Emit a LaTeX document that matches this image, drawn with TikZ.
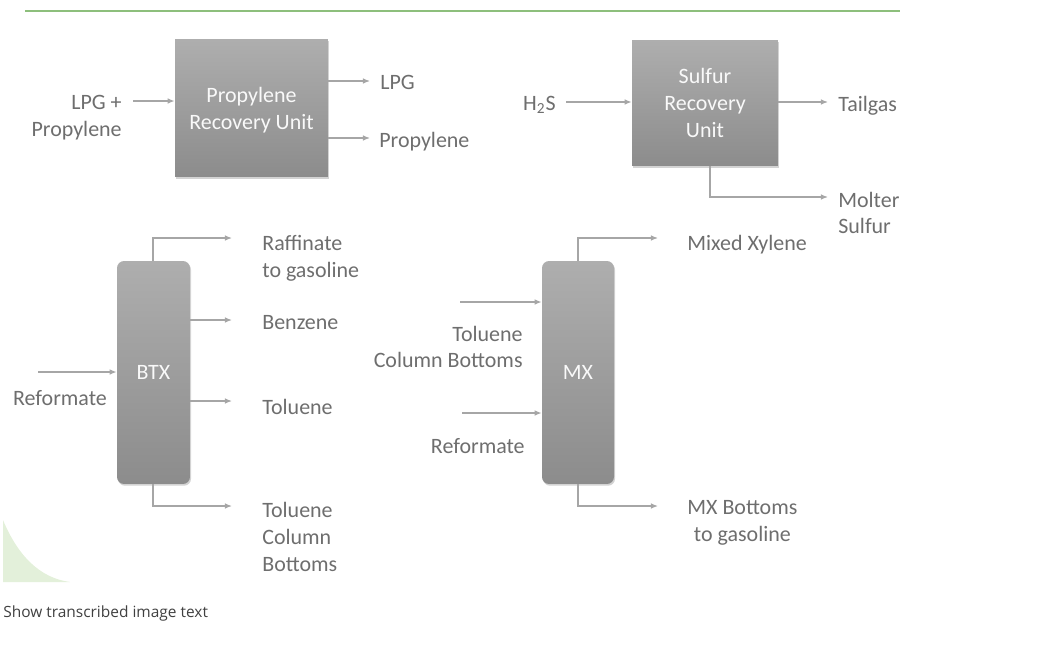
\documentclass[tikz,border=0pt]{standalone}
\usepackage{fontspec}
\setmainfont{Carlito}
\newfontfamily\pagefont{Open Sans}
\usetikzlibrary{arrows.meta,shadows}
\definecolor{txtgray}{HTML}{6E6E6E}
\definecolor{linegray}{HTML}{A6A6A6}
\definecolor{boxtop}{HTML}{AEAEAE}
\definecolor{boxbot}{HTML}{8C8C8C}
\definecolor{rulegreen}{HTML}{8DBF7C}
\definecolor{leafgreen}{HTML}{E3F0DA}
\begin{document}
\begin{tikzpicture}[x=0.02cm,y=-0.02cm,
    lbl/.style={text=txtgray,font=\fontsize{12.5}{15.3}\selectfont,inner sep=0pt,yshift=-1.1pt},
    unit/.style={top color=boxtop,bottom color=boxbot,draw=none,
        text=white!95!gray,font=\fontsize{12.5}{15.3}\selectfont,align=center,
        drop shadow={shadow xshift=0.6pt,shadow yshift=-1pt,opacity=0.35,fill=gray}},
    column/.style={unit,rounded corners=4pt},
    flow/.style={draw=linegray,line width=0.7pt,-{Latex[length=4pt,width=3.2pt]}}]
    \useasboundingbox (0,0) rectangle (1054,649);
    % riga verde
    \draw[rulegreen,line width=0.6pt](25,11)--(900,11);
    % angolo verde
    \fill[leafgreen](3,520) .. controls (18,556) and (40,578) .. (70,582) -- (3,582) -- cycle;

    % unita propilene
    \node[unit,minimum width=3.06cm,minimum height=2.76cm,text depth=-3pt] (pru) at (251.5,108) {Propylene\\Recovery Unit};
    \node[lbl,align=right,anchor=east] (lpgfeed) at (122,116) {LPG +\\Propylene};
    \node[lbl,anchor=west] (lpgout) at (380,81) {LPG};
    \node[lbl,anchor=west] (propout) at (379,140) {Propylene};
    \coordinate (lpgin) at (133,101);
    \coordinate (lpgend) at (370,81);
    \coordinate (propend) at (370,138);
    \draw[flow](lpgin)--(pru.west|-lpgin);
    \draw[flow](pru.east|-lpgend)--(lpgend);
    \draw[flow](pru.east|-propend)--(propend);

    % unita zolfo
    \node[unit,minimum width=2.92cm,minimum height=2.52cm,text depth=-3pt] (sru) at (705,103) {Sulfur\\Recovery\\Unit};
    \node[lbl,anchor=east] (h2s) at (556,103) {H\textsubscript{2}S};
    \node[lbl,anchor=west] (tailgas) at (838,104) {Tailgas};
    \node[lbl,align=left,anchor=west] (sulfur) at (838,211) {Molter\\Sulfur};
    \coordinate (sulfurturn) at (710,197);
    \draw[flow](566,102)--(sru.west|-0,102);
    \draw[flow](sru.east|-0,102)--(828,102);
    \draw[flow](sru.south-|sulfurturn)--(sulfurturn)--(828,197);

    % colonna BTX
    \node[column,minimum width=1.46cm,minimum height=4.46cm] (btx) at (153.5,372.5) {BTX};
    \node[lbl,anchor=center] (btxfeed) at (60,396) {Reformate};
    \node[lbl,align=left,anchor=west] (raff) at (262,256) {Raffinate\\to gasoline};
    \node[lbl,anchor=west] (benz) at (262,321) {Benzene};
    \node[lbl,anchor=west] (tol) at (262,405) {Toluene};
    \node[lbl,align=left,anchor=west] (tolbot) at (262,535) {Toluene\\Column\\Bottoms};
    \coordinate (btxtop) at (153,238);
    \coordinate (btxbot) at (153,506);
    \draw[flow](38,372)--(btx.west|-0,372);
    \draw[flow](btx.north-|btxtop)--(btxtop)--(232,238);
    \draw[flow](btx.east|-0,320)--(232,320);
    \draw[flow](btx.east|-0,401)--(232,401);
    \draw[flow](btx.south-|btxbot)--(btxbot)--(232,506);

    % colonna MX
    \node[column,minimum width=1.44cm,minimum height=4.46cm] (mx) at (578,372.5) {MX};
    \node[lbl,align=right,anchor=east] (tcbfeed) at (523,345) {Toluene\\Column Bottoms};
    \node[lbl,anchor=east] (refmx) at (525,444) {Reformate};
    \node[lbl,anchor=west] (mxyl) at (687,243) {Mixed Xylene};
    \node[lbl,align=center,anchor=west] (mxbot) at (687,521) {MX Bottoms\\to gasoline};
    \coordinate (mxtop) at (578,238);
    \coordinate (mxbotturn) at (578,506);
    \draw[flow](460,302)--(mx.west|-0,302);
    \draw[flow](462,413)--(mx.west|-0,413);
    \draw[flow](mx.north-|mxtop)--(mxtop)--(658,238);
    \draw[flow](mx.south-|mxbotturn)--(mxbotturn)--(658,506);

    % testo in basso
    \node[anchor=west,inner sep=0pt,text=black!75,font=\pagefont\fontsize{8.8}{10}\selectfont] (show) at (3,613) {Show transcribed image text};
\end{tikzpicture}
\end{document}
